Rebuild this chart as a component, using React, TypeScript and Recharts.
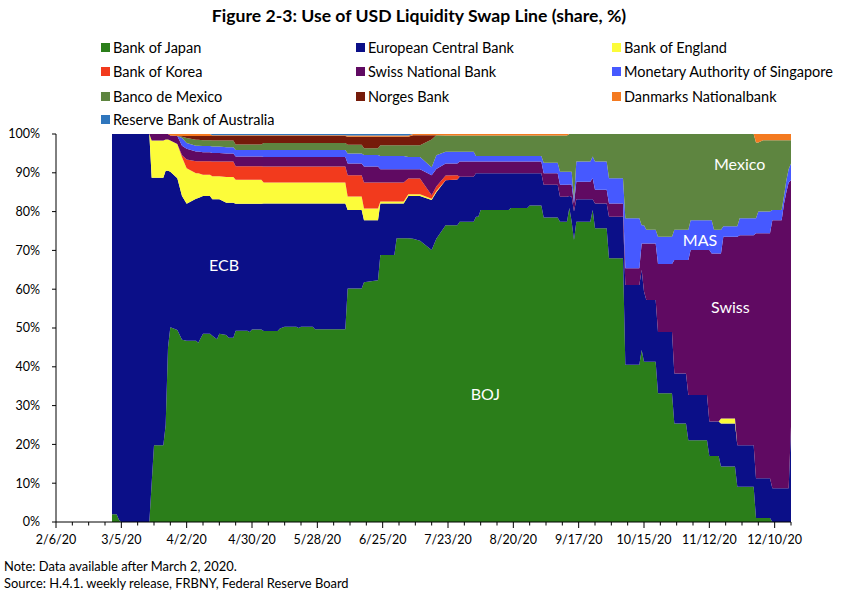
import React from 'react';
import { AreaChart, Area, XAxis, YAxis, ReferenceDot } from 'recharts';

// days counted from 2/6/20 (day 0); data starts early March
const days = [
  24, 26, 27, 28, 40, 41, 42, 46, 47, 48,
  49, 52, 54, 56, 60, 61, 63, 66, 67, 69,
  70, 73, 74, 76, 77, 82, 83, 84, 88, 89,
  95, 96, 98, 103, 104, 105, 110, 111, 124, 125,
  131, 132, 138, 139, 145, 146, 149, 151, 153, 156,
  161, 163, 167, 172, 173, 179, 180, 181, 182, 194,
  195, 202, 203, 208, 209, 215, 216, 219, 220, 221,
  222, 223, 229, 230, 231, 236, 237, 243, 244, 250,
  251, 252, 253, 257, 258, 264, 265, 270, 271, 272,
  279, 280, 281, 282, 284, 285, 286, 291, 292, 293,
  299, 300, 301, 303, 306, 307, 311, 312, 313, 314, 315,
];

// shares in %, one entry per day above
const boj = [
  2, 2, 0.5, 0, 0, 10, 19.8, 19.8, 25, 45,
  50.2, 49.5, 47, 46.7, 46.7, 46.2, 48.5, 48.5, 48, 47.1,
  48.5, 48.2, 47.5, 47.5, 49.3, 49.3, 49, 49.6, 49.6, 49.2,
  49.2, 49.9, 50.3, 50.3, 50, 50.3, 50.3, 49.7, 49.7, 60.2,
  60.2, 61.8, 62.3, 68.8, 68.8, 73.1, 73.1, 73.1, 73, 72.5,
  70.1, 73, 76.5, 76.5, 77.4, 77.4, 78.7, 78.7, 80.4, 80.4,
  80.9, 80.9, 81.6, 81.6, 78.5, 78.5, 77.4, 77.4, 80.9, 77.4,
  72.7, 77.4, 77.4, 80.4, 75.7, 75.7, 68, 68, 40.5, 40.5,
  44.3, 41.3, 41.3, 41.3, 33.2, 33.2, 25.4, 25.4, 21.1, 21.1,
  21.1, 17, 17, 17, 17, 14.3, 14.3, 14.3, 9.1, 9.1,
  9.1, 1, 1, 1, 1, 0, 0, 0, 0, 0, 0,
];
const ecb = [
  98, 98, 99.5, 100, 100, 78.7, 68.9, 68.9, 65.5, 45.5,
  40.1, 39.1, 37, 35.3, 36.6, 37.3, 35.5, 35.5, 35.2, 36.1,
  34.7, 34.1, 34.8, 34.8, 32.7, 32.7, 33, 32.4, 32.4, 32.9,
  32.9, 32.2, 31.8, 31.8, 32.1, 31.8, 31.8, 32.4, 32.4, 20.2,
  20.2, 16, 15.5, 13.3, 13.3, 9, 9, 10.9, 11, 11.5,
  12.9, 12, 11.6, 11.8, 11.6, 11.6, 11.2, 11.2, 9.5, 9.5,
  9, 9, 8.3, 8.3, 8.4, 8.4, 6.4, 6.4, 3.1, 6.4,
  7.3, 5.8, 5.8, 2.8, 6.4, 6.4, 10.7, 10.7, 20.6, 20.6,
  20.7, 18.1, 15.9, 15.9, 15.8, 15.8, 12.9, 12.9, 11.6, 11.6,
  11.6, 8.9, 8.9, 8.9, 8.9, 11.1, 11.1, 11.1, 10.7, 10.7,
  10.7, 10.3, 10.3, 10.3, 10.3, 8.7, 8.7, 8.7, 8.7, 8.7, 24.6,
];
const boe = [
  0, 0, 0, 0, 0, 9.6, 9.6, 9.6, 8.1, 8.1,
  8, 8.8, 10, 9.2, 6.6, 6.4, 5.5, 5.5, 5.9, 5.9,
  5.9, 6.6, 6.6, 6.6, 6.2, 6.2, 6.2, 6.2, 6.2, 5.4,
  5.4, 5.4, 5.4, 5.4, 5.4, 5.4, 5.4, 5.4, 5.4, 3.5,
  3.5, 3, 3, 0.5, 0.5, 0.5, 0.5, 0.5, 0.5, 0.5,
  0.3, 0.3, 0, 0, 0, 0, 0, 0, 0, 0,
  0, 0, 0, 0, 0, 0, 0, 0, 0, 0,
  0, 0, 0, 0, 0, 0, 0, 0, 0, 0,
  0, 0, 0, 0, 0, 0, 0, 0, 0, 0,
  0, 0, 0, 0, 0, 1.3, 1.3, 1.3, 0, 0,
  0, 0, 0, 0, 0, 0, 0, 0, 0, 0, 0,
];
const bok = [
  0, 0, 0, 0, 0, 0, 0, 0, 0, 0,
  0, 0, 0.5, 2.2, 3.1, 3.1, 3.5, 3.5, 3.8, 3.8,
  3.8, 4, 4, 4, 3.5, 3.5, 3.5, 3.5, 3.5, 4.1,
  4.1, 4.1, 4.1, 4.1, 4.1, 4.1, 4.1, 4.1, 4.1, 5.5,
  5.5, 6.7, 6.7, 4.9, 4.9, 4.9, 4.9, 4, 4, 4,
  0.9, 1.2, 1.2, 1.1, 0, 0, 0, 0, 0, 0,
  0, 0, 0, 0, 0, 0, 0, 0, 0, 0,
  0, 0, 0, 0, 0, 0, 0, 0, 0, 0,
  0, 0, 0, 0, 0, 0, 0, 0, 0, 0,
  0, 0, 0, 0, 0, 0, 0, 0, 0, 0,
  0, 0, 0, 0, 0, 0, 0, 0, 0, 0, 0,
];
const snb = [
  0, 0, 0, 0, 0, 1.7, 1.7, 1.7, 1.4, 1.4,
  1.3, 2.1, 2.5, 2.8, 2.5, 2.5, 2.3, 2.3, 2.2, 2.2,
  2.2, 2.1, 2.1, 2.1, 2.5, 2.5, 2.5, 2.5, 2.5, 2.5,
  2.5, 2.5, 2.5, 2.5, 2.5, 2.5, 2.5, 2.5, 2.5, 3,
  3, 4.1, 4.1, 3.4, 3.4, 3.4, 3.4, 2.4, 2.4, 2.4,
  5.2, 4.5, 3.1, 3, 3.9, 3.9, 3, 3, 3, 3,
  3, 3, 3, 3, 3, 3, 3.1, 3.1, 3, 3.1,
  2.1, 4.5, 4.5, 5.4, 3.5, 3.5, 3.4, 3.4, 4.3, 4.3,
  6.8, 12.4, 14.6, 14.6, 17.5, 17.5, 29.2, 29.2, 34.8, 37.4,
  37.4, 44.2, 43.3, 43.3, 43.3, 42.5, 46.8, 46.8, 53.7, 54.1,
  54.1, 63.1, 63.1, 63.1, 63.1, 69.1, 69.1, 73.3, 76.3, 78.8, 63.5,
];
const mas = [
  0, 0, 0, 0, 0, 0, 0, 0, 0, 0,
  0, 0, 2, 1.5, 1.5, 1.5, 1.6, 1.6, 1.7, 1.7,
  1.7, 1.6, 1.6, 1.6, 1.7, 1.7, 1.7, 1.7, 1.7, 1.8,
  1.8, 1.8, 1.8, 1.8, 1.8, 1.8, 1.8, 1.8, 1.8, 2.6,
  2.6, 3, 3, 3.4, 3.4, 3.4, 3.4, 3.2, 3.2, 3.2,
  2, 3.5, 3, 3, 2.5, 2.5, 1.4, 1.4, 1.4, 1.4,
  1.4, 1.4, 1.4, 1.4, 2.7, 2.7, 3.4, 3.4, 3.3, 3.4,
  0.9, 5.2, 5.2, 5.6, 7.3, 7.3, 6.5, 6.5, 12.9, 12.9,
  4.7, 4.7, 3.5, 3.5, 7, 7, 7.8, 7.8, 7.8, 7.7,
  7.7, 7.7, 8.6, 6.1, 6.1, 6.1, 2.7, 2.7, 2.7, 4.4,
  4.4, 3.9, 5.6, 5.6, 5.6, 2.6, 2.6, 2, 3, 3.5, 4.3,
];
const mex = [
  0, 0, 0, 0, 0, 0, 0, 0, 0, 0,
  0, 0, 0.3, 1.3, 1.5, 1.5, 1.5, 1.5, 1.5, 1.5,
  1.5, 1.7, 1.7, 1.7, 1.4, 1.4, 1.4, 1.4, 1.4, 1.8,
  1.8, 1.8, 1.8, 1.8, 1.8, 1.8, 1.8, 1.8, 1.8, 2.2,
  2.2, 1.7, 1.7, 2.8, 2.8, 2.8, 2.8, 3, 3, 3,
  7.2, 5.2, 4.2, 4.2, 4.2, 4.2, 5.3, 5.3, 5.3, 5.3,
  5.3, 5.3, 5.3, 5.3, 7, 7, 9.3, 9.3, 9.7, 9.7,
  17, 7.1, 7.1, 5.8, 7.1, 7.1, 11.4, 11.4, 21.7, 21.7,
  23.5, 23.5, 24.7, 24.7, 26.5, 26.5, 24.7, 24.7, 24.7, 22.2,
  22.2, 22.2, 22.2, 24.7, 24.7, 24.7, 23.8, 23.8, 23.8, 21.7,
  21.7, 19.5, 17.8, 18.4, 18.4, 18, 18, 14.4, 10.4, 7.4, 6,
];
const norges = [
  0, 0, 0, 0, 0, 0, 0, 0, 0, 0,
  0, 0, 0.2, 0.5, 1, 1, 1.1, 1.1, 1.2, 1.2,
  1.2, 1.2, 1.2, 1.2, 2.2, 2.2, 2.2, 2.2, 2.2, 1.8,
  1.8, 1.8, 1.8, 1.8, 1.8, 1.8, 1.8, 1.8, 1.8, 2.1,
  2.1, 3, 3, 2.2, 2.2, 2.2, 2.2, 2.2, 2.6, 2.6,
  1.1, 0, 0, 0, 0, 0, 0, 0, 0, 0,
  0, 0, 0, 0, 0, 0, 0, 0, 0, 0,
  0, 0, 0, 0, 0, 0, 0, 0, 0, 0,
  0, 0, 0, 0, 0, 0, 0, 0, 0, 0,
  0, 0, 0, 0, 0, 0, 0, 0, 0, 0,
  0, 0, 0, 0, 0, 0, 0, 0, 0, 0, 0,
];
const danmarks = [
  0, 0, 0, 0, 0, 0, 0, 0, 0, 0,
  0.4, 0.5, 0.5, 0.5, 0.5, 0.5, 0.5, 0.5, 0.2, 0.2,
  0.2, 0.2, 0.2, 0.2, 0.2, 0.2, 0.2, 0.2, 0.2, 0.2,
  0.2, 0.2, 0.2, 0.2, 0.2, 0.2, 0.2, 0.2, 0.2, 0.3,
  0.3, 0.3, 0.3, 0.3, 0.3, 0.3, 0.3, 0.3, 0.3, 0.3,
  0.3, 0.3, 0.4, 0.4, 0.4, 0.4, 0.4, 0.4, 0.4, 0.4,
  0.4, 0.4, 0.4, 0.4, 0.4, 0.4, 0.4, 0.4, 0, 0,
  0, 0, 0, 0, 0, 0, 0, 0, 0, 0,
  0, 0, 0, 0, 0, 0, 0, 0, 0, 0,
  0, 0, 0, 0, 0, 0, 0, 0, 0, 0,
  0, 2.2, 2.2, 1.6, 1.6, 1.6, 1.6, 1.6, 1.6, 1.6, 1.6,
];
const rba = [
  0, 0, 0, 0, 0, 0, 0, 0, 0, 0,
  0, 0, 0, 0, 0, 0, 0, 0, 0.3, 0.3,
  0.3, 0.3, 0.3, 0.3, 0.3, 0.3, 0.3, 0.3, 0.3, 0.3,
  0.3, 0.3, 0.3, 0.3, 0.3, 0.3, 0.3, 0.3, 0.3, 0.4,
  0.4, 0.4, 0.4, 0.4, 0.4, 0.4, 0.4, 0.4, 0, 0,
  0, 0, 0, 0, 0, 0, 0, 0, 0, 0,
  0, 0, 0, 0, 0, 0, 0, 0, 0, 0,
  0, 0, 0, 0, 0, 0, 0, 0, 0, 0,
  0, 0, 0, 0, 0, 0, 0, 0, 0, 0,
  0, 0, 0, 0, 0, 0, 0, 0, 0, 0,
  0, 0, 0, 0, 0, 0, 0, 0, 0, 0, 0,
];

const series = [
  { key: 'boj', name: 'Bank of Japan', color: '#2B7E1A', values: boj },
  { key: 'ecb', name: 'European Central Bank', color: '#0B0F88', values: ecb },
  { key: 'boe', name: 'Bank of England', color: '#FCFC3A', values: boe },
  { key: 'bok', name: 'Bank of Korea', color: '#F23A1D', values: bok },
  { key: 'snb', name: 'Swiss National Bank', color: '#600A62', values: snb },
  { key: 'mas', name: 'Monetary Authority of Singapore', color: '#4659FF', values: mas },
  { key: 'mex', name: 'Banco de Mexico', color: '#5E8540', values: mex },
  { key: 'nor', name: 'Norges Bank', color: '#751B0A', values: norges },
  { key: 'dnb', name: 'Danmarks Nationalbank', color: '#F47A20', values: danmarks },
  { key: 'rba', name: 'Reserve Bank of Australia', color: '#2F76BD', values: rba },
];

const majorTicks = [0, 28, 56, 84, 112, 140, 168, 196, 224, 252, 280, 308];
const tickLabels = ['2/6/20', '3/5/20', '4/2/20', '4/30/20', '5/28/20', '6/25/20', '7/23/20', '8/20/20', '9/17/20', '10/15/20', '11/12/20', '12/10/20'];
const minorTicks = Array.from({ length: 46 }, (_, i) => i * 7);
const yTicks = [0, 0.1, 0.2, 0.3, 0.4, 0.5, 0.6, 0.7, 0.8, 0.9, 1];

const labels = [
  { text: 'ECB', day: 72, share: 0.662 },
  { text: 'BOJ', day: 184, share: 0.33 },
  { text: 'Mexico', day: 293, share: 0.923 },
  { text: 'MAS', day: 276, share: 0.727 },
  { text: 'Swiss', day: 289, share: 0.554 },
];

const data = days.map((day, i) => {
  const row: Record<string, number> = { day };
  series.forEach((s) => { row[s.key] = s.values[i]; });
  return row;
});

const FONT = 'Lato, "Open Sans", sans-serif';
const TICK_GAP = 13;

const DayTick = (props: any) => {
  const { x, y, payload } = props;
  const idx = majorTicks.indexOf(payload.value);
  const top = y - TICK_GAP;
  return (
    <g>
      <line x1={x} x2={x} y1={top} y2={top + (idx >= 0 ? 6 : 3.5)} stroke="#000" strokeWidth={1} />
      {idx >= 0 && (
        <text x={x} y={top + 13} dy="0.71em" textAnchor="middle" fontSize={12.5} fontFamily={FONT} fill="#000">
          {tickLabels[idx]}
        </text>
      )}
    </g>
  );
};

const legendCols = [101, 356, 612];
const legendRows = [47, 71, 96, 119];

export default function App() {
  return (
    <div style={{ position: 'absolute', left: 0, top: 0, width: 844, height: 598, background: '#fff', fontFamily: FONT, color: '#000' }}>
      <div style={{ position: 'absolute', left: 0, top: 5, width: 838, textAlign: 'center', fontWeight: 700, fontSize: 17.6 }}>
        Figure 2-3: Use of USD Liquidity Swap Line (share, %)
      </div>
      {series.map((s, i) => (
        <div key={s.key} style={{ position: 'absolute', left: legendCols[i % 3], top: legendRows[Math.floor(i / 3)] - 9, height: 18, display: 'flex', alignItems: 'center', fontSize: 14.5, whiteSpace: 'nowrap' }}>
          <span style={{ display: 'inline-block', width: 9, height: 9, background: s.color, marginRight: 3 }} />
          {s.name}
        </div>
      ))}
      <div style={{ position: 'absolute', left: 0, top: 0 }}>
        <AreaChart width={844} height={598} data={data} stackOffset="expand" margin={{ top: 134, right: 53, bottom: 36, left: 0 }}>
          <XAxis
            dataKey="day"
            type="number"
            domain={[0, 315]}
            ticks={minorTicks}
            interval={0}
            height={40}
            tickLine={false}
            tickSize={0}
            tickMargin={TICK_GAP}
            axisLine={{ stroke: '#000' }}
            tick={<DayTick />}
          />
          <YAxis
            type="number"
            domain={[0, 1]}
            ticks={yTicks}
            interval={0}
            width={56}
            tickSize={4}
            tickMargin={12}
            axisLine={{ stroke: '#000' }}
            tickLine={{ stroke: '#000' }}
            tick={{ fill: '#000', fontSize: 12.5, fontFamily: FONT }}
            tickFormatter={(v: number) => `${Math.round(v * 100)}%`}
          />
          {series.map((s) => (
            <Area
              key={s.key}
              dataKey={s.key}
              name={s.name}
              stackId="1"
              type="linear"
              stroke="none"
              fill={s.color}
              fillOpacity={1}
              isAnimationActive={false}
              dot={false}
              activeDot={false}
            />
          ))}
          {labels.map((l) => (
            <ReferenceDot
              key={l.text}
              x={l.day}
              y={l.share}
              r={0}
              stroke="none"
              label={{ value: l.text, position: 'center', fill: '#fff', fontSize: 16, fontFamily: FONT }}
            />
          ))}
        </AreaChart>
      </div>
      <div style={{ position: 'absolute', left: 4, top: 558, fontSize: 12.9, lineHeight: '17px' }}>
        Note: Data available after March 2, 2020.
        <br />
        Source: H.4.1. weekly release, FRBNY, Federal Reserve Board
      </div>
    </div>
  );
}
